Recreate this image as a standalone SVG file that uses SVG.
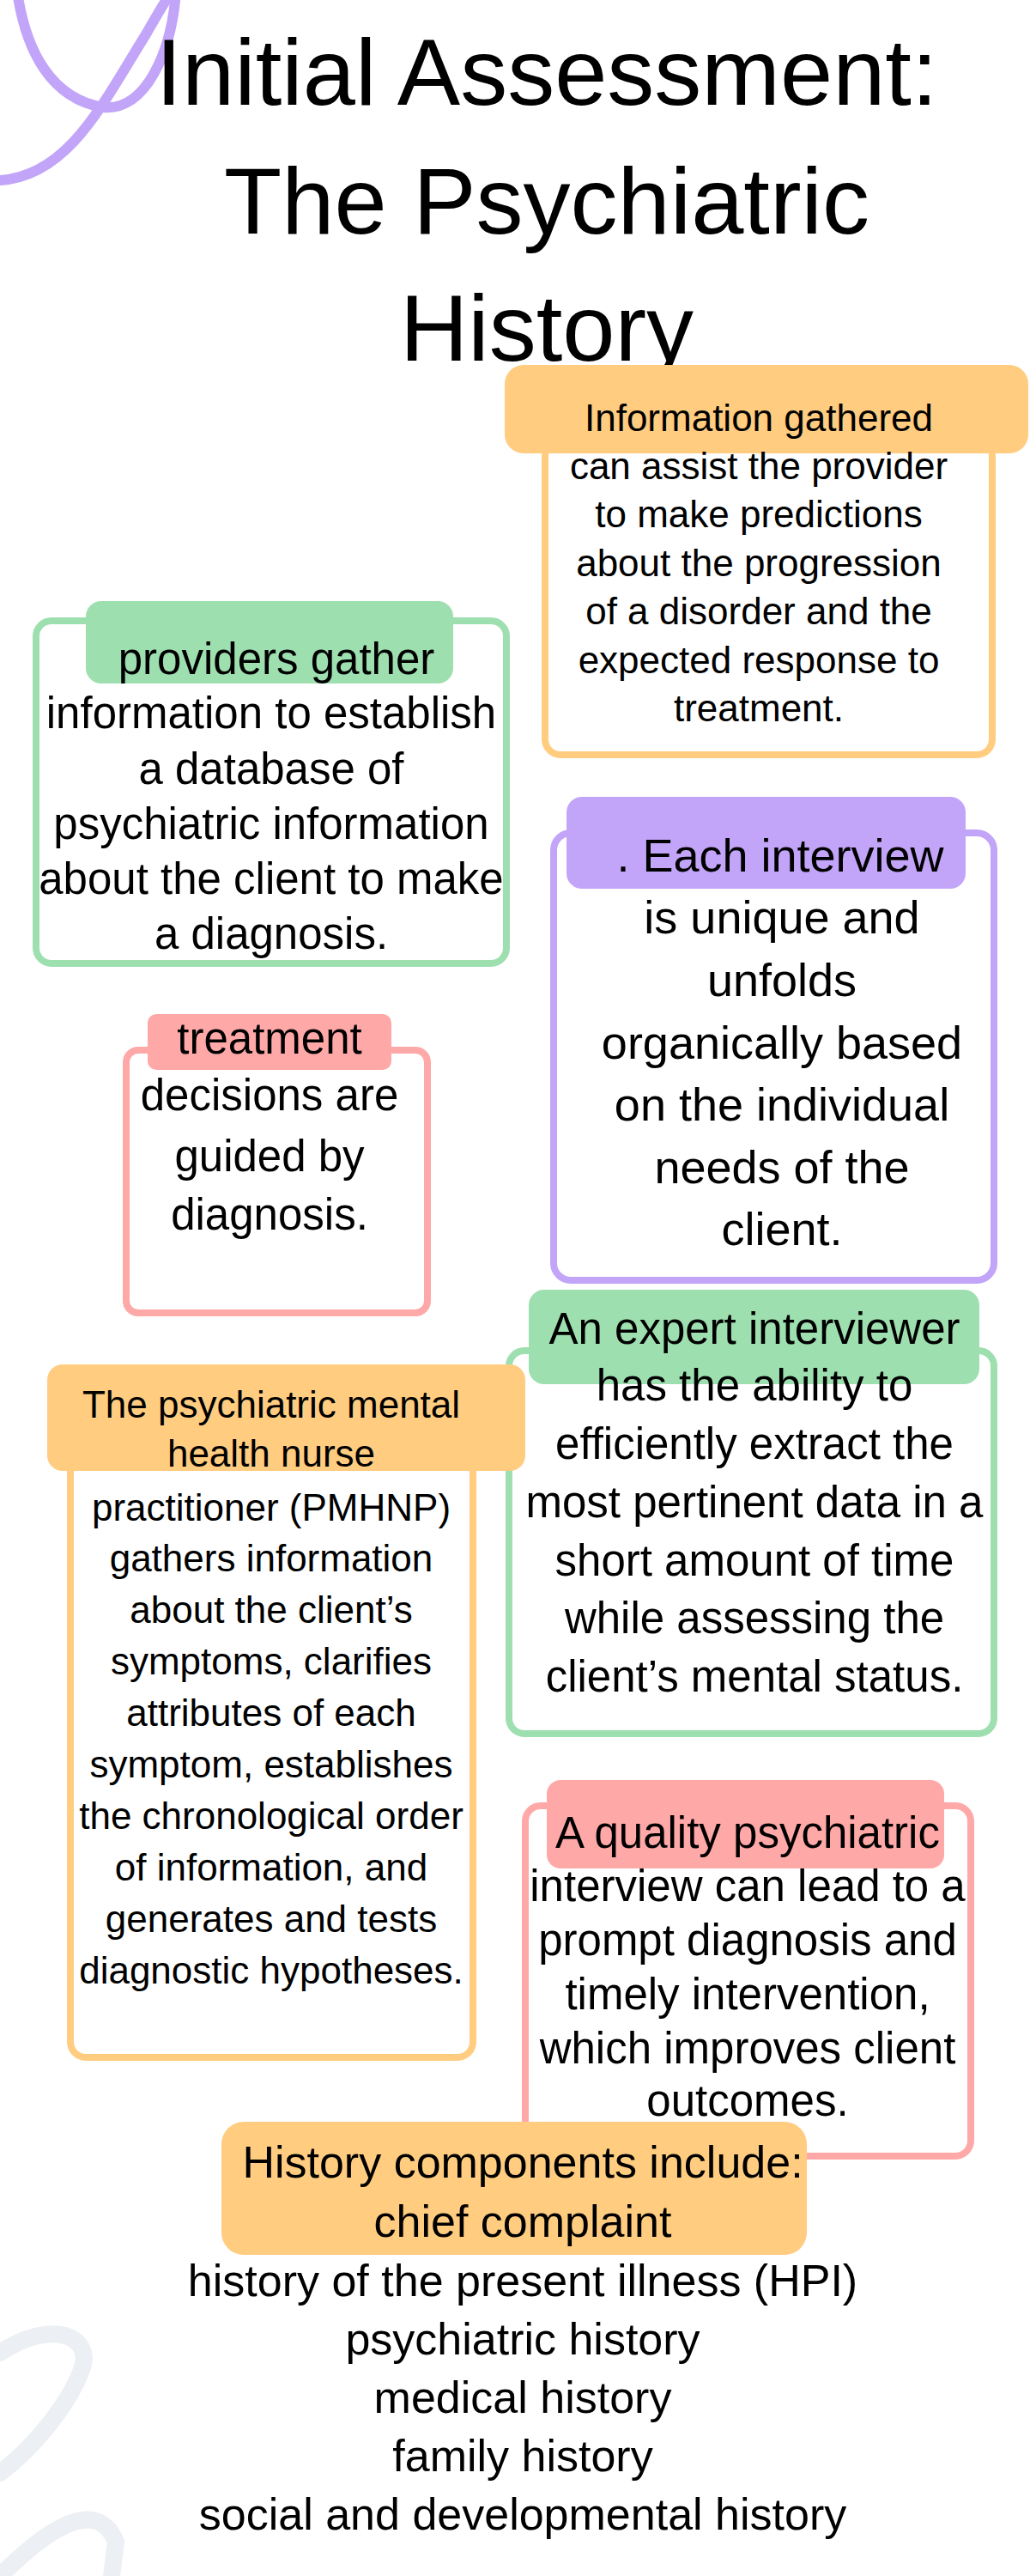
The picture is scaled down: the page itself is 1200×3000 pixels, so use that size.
<svg xmlns="http://www.w3.org/2000/svg" width="1200" height="3000" viewBox="0 0 1200 3000">
<style>
text{font-family:"Liberation Sans","DejaVu Sans",sans-serif;fill:#000;text-anchor:middle}
.t{font-size:110px}
.b{fill:#fff;stroke-width:8}
.o{stroke:#FFCC80}.g{stroke:#9EDFB0}.p{stroke:#C2A5F8}.r{stroke:#FFA8A8}
.fo{fill:#FFCC80}.fg{fill:#9EDFB0}.fp{fill:#C2A5F8}.fr{fill:#FFA8A8}
.s40{font-size:44px}.s46{font-size:51px}.s50{font-size:51px}.s53{font-size:54px}.s52{font-size:52px}
</style>
<rect width="1200" height="3000" fill="#fff"/>
<g id="decor" fill="none" stroke-linecap="round">
<path d="M0 210 C80 205 120 120 170 40 C190 5 200 -10 200 -10" stroke="#C2A5F8" stroke-width="12"/>
<path d="M20 -10 C30 60 60 115 120 125 C170 130 200 60 205 -10" stroke="#C2A5F8" stroke-width="12"/>
<path d="M0 2880 C40 2850 80 2800 95 2760 C110 2720 60 2700 0 2740" stroke="#ECEFF3" stroke-width="20"/>
<path d="M0 3000 C40 2960 110 2900 135 2960 L130 3000" stroke="#ECEFF3" stroke-width="20"/>
</g>
<g id="title">
<text class="t" x="637" y="122">Initial Assessment:</text>
<text class="t" x="637" y="272">The Psychiatric</text>
<text class="t" x="637" y="420">History</text>
</g>
<g id="connectors"/>
<g id="n1">
<rect class="b o" x="635" y="513" width="521" height="366" rx="18"/>
<rect class="fo" x="588" y="425" width="610" height="103" rx="22"/>
<text class="s40"><tspan x="884" y="502">Information gathered</tspan><tspan x="884" y="558">can assist the provider</tspan><tspan x="884" y="614">to make predictions</tspan><tspan x="884" y="671">about the progression</tspan><tspan x="884" y="727">of a disorder and the</tspan><tspan x="884" y="784">expected response to</tspan><tspan x="884" y="840">treatment.</tspan></text>
</g>
<g id="n2">
<rect class="b g" x="42" y="723" width="548" height="399" rx="18"/>
<rect class="fg" x="100" y="700" width="428" height="96" rx="18"/>
<text class="s46"><tspan x="322" y="785">providers gather</tspan><tspan x="316" y="848">information to establish</tspan><tspan x="316" y="913">a database of</tspan><tspan x="316" y="977">psychiatric information</tspan><tspan x="316" y="1041">about the client to make</tspan><tspan x="316" y="1105">a diagnosis.</tspan></text>
</g>
<g id="n3">
<rect class="b p" x="645" y="970" width="513" height="521" rx="20"/>
<rect class="fp" x="660" y="928" width="465" height="107" rx="18"/>
<text class="s53"><tspan x="909" y="1015">. Each interview</tspan><tspan x="911" y="1087">is unique and</tspan><tspan x="911" y="1160">unfolds</tspan><tspan x="911" y="1233">organically based</tspan><tspan x="911" y="1305">on the individual</tspan><tspan x="911" y="1378">needs of the</tspan><tspan x="911" y="1450">client.</tspan></text>
</g>
<g id="n4">
<rect class="b r" x="147" y="1223" width="351" height="306" rx="14"/>
<rect class="fr" x="172" y="1181" width="284" height="65" rx="10"/>
<text class="s50"><tspan x="314" y="1227">treatment</tspan><tspan x="314" y="1293">decisions are</tspan><tspan x="314" y="1364">guided by</tspan><tspan x="314" y="1432">diagnosis.</tspan></text>
</g>
<g id="n5">
<rect class="b g" x="593" y="1573" width="565" height="446" rx="18"/>
<rect class="fg" x="616" y="1502" width="525" height="110" rx="18"/>
<text class="s46"><tspan x="879" y="1565">An expert interviewer</tspan><tspan x="879" y="1631">has the ability to</tspan><tspan x="879" y="1699">efficiently extract the</tspan><tspan x="879" y="1767">most pertinent data in a</tspan><tspan x="879" y="1835">short amount of time</tspan><tspan x="879" y="1902">while assessing the</tspan><tspan x="879" y="1970">client’s mental status.</tspan></text>
</g>
<g id="n6">
<rect class="b o" x="82" y="1665" width="469" height="731" rx="18"/>
<rect class="fo" x="55" y="1589" width="557" height="124" rx="18"/>
<text class="s40"><tspan x="316" y="1651">The psychiatric mental</tspan><tspan x="316" y="1708">health nurse</tspan><tspan x="316" y="1771">practitioner (PMHNP)</tspan><tspan x="316" y="1830">gathers information</tspan><tspan x="316" y="1890">about the client’s</tspan><tspan x="316" y="1950">symptoms, clarifies</tspan><tspan x="316" y="2010">attributes of each</tspan><tspan x="316" y="2070">symptom, establishes</tspan><tspan x="316" y="2130">the chronological order</tspan><tspan x="316" y="2190">of information, and</tspan><tspan x="316" y="2250">generates and tests</tspan><tspan x="316" y="2310">diagnostic hypotheses.</tspan></text>
</g>
<g id="n7">
<rect class="b r" x="612" y="2103" width="519" height="408" rx="18"/>
<rect class="fr" x="637" y="2073" width="463" height="103" rx="16"/>
<text class="s46"><tspan x="871" y="2152">A quality psychiatric</tspan><tspan x="871" y="2214">interview can lead to a</tspan><tspan x="871" y="2277">prompt diagnosis and</tspan><tspan x="871" y="2340">timely intervention,</tspan><tspan x="871" y="2403">which improves client</tspan><tspan x="871" y="2464">outcomes.</tspan></text>
</g>
<g id="n8">
<rect class="fo" x="258" y="2471" width="682" height="155" rx="26"/>
<text class="s52"><tspan x="609" y="2536">History components include:</tspan><tspan x="609" y="2605">chief complaint</tspan><tspan x="609" y="2674">history of the present illness (HPI)</tspan><tspan x="609" y="2742">psychiatric history</tspan><tspan x="609" y="2810">medical history</tspan><tspan x="609" y="2878">family history</tspan><tspan x="609" y="2946">social and developmental history</tspan></text>
</g>
</svg>
